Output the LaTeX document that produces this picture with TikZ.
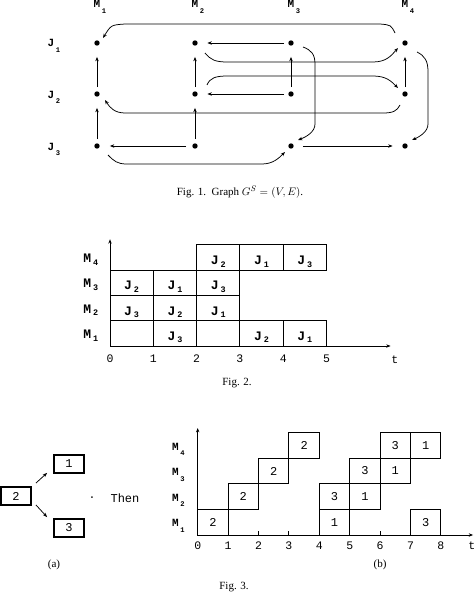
\documentclass[tikz,border=0pt]{standalone}
\usepackage{fontspec}
\usepackage{graphicx}
\setmainfont{Liberation Serif}
\newfontfamily\dmfont{Liberation Mono}
\usetikzlibrary{arrows.meta,calc}
\newcommand{\sbs}[3][0.2em]{#2\kern0.15em\raisebox{-#1}{\scalebox{0.65}{#3}}}
\begin{document}
\begin{tikzpicture}[x=1pt,y=-1pt,
  dot/.style={circle,fill=black,inner sep=0pt,minimum size=5.4pt},
  arr/.style={line width=0.75pt,-{Stealth[length=4.4pt,width=3.4pt]}},
  lab/.style={inner sep=0pt,font=\dmfont\bfseries\fontsize{11}{11}\selectfont},
  labb/.style={inner sep=0pt,font=\dmfont\bfseries\fontsize{13}{13}\selectfont},
  tick/.style={inner sep=0pt,font=\dmfont\fontsize{11.5}{11.5}\selectfont},
  captxt/.style={inner sep=0pt,font=\fontsize{11}{13}\selectfont},
  cellA/.style={draw,line width=0.9pt,minimum width=43.3pt,minimum height=25.3pt,inner sep=0pt,text height=14pt,text depth=0pt,font=\dmfont\bfseries\fontsize{13}{13}\selectfont},
  cellB/.style={draw,line width=0.9pt,minimum width=30.4pt,minimum height=25.6pt,inner sep=0pt,font=\dmfont\fontsize{12}{12}\selectfont},
  tbox/.style={draw,line width=1.8pt,minimum width=30pt,minimum height=18pt,inner sep=0pt,font=\dmfont\fontsize{12}{12}\selectfont}
]
\useasboundingbox (0,0) rectangle (474,594);

% ---------------- Fig. 1 ----------------
\node[dot] (a11) at (97,43) {};
\node[dot] (a12) at (97,94) {};
\node[dot] (a13) at (97,146) {};
\node[dot] (a21) at (195,43) {};
\node[dot] (a22) at (195,94) {};
\node[dot] (a23) at (195,146) {};
\node[dot] (a31) at (291,43) {};
\node[dot] (a32) at (291,94) {};
\node[dot] (a33) at (291,146) {};
\node[dot] (a41) at (405,43) {};
\node[dot] (a42) at (405,94) {};
\node[dot] (a43) at (405,146) {};

\node[lab,anchor=base west] (lm1) at (93.5,8) {\sbs[0.5em]{M}{1}};
\node[lab,anchor=base west] (lm2) at (191.5,8) {\sbs[0.5em]{M}{2}};
\node[lab,anchor=base west] (lm3) at (287.5,8) {\sbs[0.5em]{M}{3}};
\node[lab,anchor=base west] (lm4) at (401.5,8) {\sbs[0.5em]{M}{4}};
\node[lab,anchor=base west] (lj1) at (47.5,47) {\sbs[0.5em]{J}{1}};
\node[lab,anchor=base west] (lj2) at (47.5,98) {\sbs[0.5em]{J}{2}};
\node[lab,anchor=base west] (lj3) at (47.5,150) {\sbs[0.5em]{J}{3}};

% straight arrows
\draw[arr,shorten <=4pt,shorten >=11pt] (a12) -- (a11);
\draw[arr,shorten <=4pt,shorten >=11pt] (a13) -- (a12);
\draw[arr,shorten <=4pt,shorten >=11pt] (a22) -- (a21);
\draw[arr,shorten <=4pt,shorten >=11pt] (a23) -- (a22);
\draw[arr,shorten <=4pt,shorten >=11pt] (a32) -- (a31);
\draw[arr,shorten <=4pt,shorten >=11pt] (a42) -- (a41);
\draw[arr,shorten <=4pt,shorten >=9.5pt] (a31) -- (a21);
\draw[arr,shorten <=4pt,shorten >=9.5pt] (a32) -- (a22);
\draw[arr,shorten <=6pt,shorten >=10pt] (a23) -- (a13);
\draw[arr,shorten <=9pt,shorten >=9.5pt] (a33) -- (a43);

% curved arrows
\draw[arr] ($(a41)+(-10,-10)$) .. controls (391,25) .. (380,24) -- (125,24) .. controls (111,25) .. ($(a11)+(6,-5)$);
\draw[arr] ($(a21)+(10,10)$) .. controls (211,60) and (215,62) .. (228,62) -- (373,62) .. controls (386,62) and (391,56) .. ($(a41)+(-7,5)$);
\draw[arr] ($(a22)+(12,-9)$) .. controls (210,78) and (215,76) .. (228,76) -- (373,76) .. controls (386,76) and (391,81) .. ($(a42)+(-7,-6)$);
\draw[arr] ($(a42)+(-5,11)$) .. controls (397,111) and (393,113) .. (383,113) -- (125,113) .. controls (115,113) and (110,108) .. ($(a12)+(8,6)$);
\draw[arr] ($(a13)+(11,9)$) .. controls (114,161) and (117,164) .. (127,164) -- (262,164) .. controls (273,164) and (279,158) .. ($(a33)+(-6,6)$);
\draw[arr] ($(a31)+(12,4)$) .. controls (311,50) and (315,54) .. (315,64) -- (315,124) .. controls (315,132) and (306,137) .. ($(a33)+(7,-6)$);
\draw[arr] ($(a41)+(12,9)$) .. controls (425,56) and (428,61) .. (428,72) -- (428,124) .. controls (428,132) and (419,137) .. ($(a43)+(7,-6)$);

\node[captxt] (cap1) at (240,192) {Fig. 1.\ \ Graph $G^S=(V,E)$.};

% ---------------- Fig. 2 ----------------
\begin{scope}[shift={(110,346)},x=43.3pt,y=25.3pt]
\node[cellA] (g41) at (2.5,3.5) {\sbs{J}{2}\hspace{12pt}};
\node[cellA] (g42) at (3.5,3.5) {\sbs{J}{1}\hspace{12pt}};
\node[cellA] (g43) at (4.5,3.5) {\sbs{J}{3}\hspace{12pt}};
\node[cellA] (g31) at (0.5,2.5) {\sbs{J}{2}\hspace{12pt}};
\node[cellA] (g32) at (1.5,2.5) {\sbs{J}{1}\hspace{12pt}};
\node[cellA] (g33) at (2.5,2.5) {\sbs{J}{3}\hspace{12pt}};
\node[cellA] (g21) at (0.5,1.5) {\sbs{J}{3}\hspace{12pt}};
\node[cellA] (g22) at (1.5,1.5) {\sbs{J}{2}\hspace{12pt}};
\node[cellA] (g23) at (2.5,1.5) {\sbs{J}{1}\hspace{12pt}};
\node[cellA] (g11) at (0.5,0.5) {};
\node[cellA] (g12) at (1.5,0.5) {\sbs{J}{3}\hspace{12pt}};
\node[cellA] (g13) at (2.5,0.5) {};
\node[cellA] (g14) at (3.5,0.5) {\sbs{J}{2}\hspace{12pt}};
\node[cellA] (g15) at (4.5,0.5) {\sbs{J}{1}\hspace{12pt}};
\coordinate (o2) at (0,0);
\coordinate (xe2) at (6.48,0);
\coordinate (ye2) at (0,4.22);
\draw[arr] (o2) -- (xe2);
\draw[arr] (o2) -- (ye2);
\node[labb,anchor=base west] (f2m1) at (-0.62,0.3) {\sbs{M}{1}};
\node[labb,anchor=base west] (f2m2) at (-0.62,1.3) {\sbs{M}{2}};
\node[labb,anchor=base west] (f2m3) at (-0.62,2.3) {\sbs{M}{3}};
\node[labb,anchor=base west] (f2m4) at (-0.62,3.3) {\sbs{M}{4}};
\node[tick,anchor=base] (f2t0) at (0,-0.66) {0};
\node[tick,anchor=base] (f2t1) at (1,-0.66) {1};
\node[tick,anchor=base] (f2t2) at (2,-0.66) {2};
\node[tick,anchor=base] (f2t3) at (3,-0.66) {3};
\node[tick,anchor=base] (f2t4) at (4,-0.66) {4};
\node[tick,anchor=base] (f2t5) at (5,-0.66) {5};
\node[tick,anchor=base] (f2t) at (6.58,-0.68) {t};
\end{scope}
\node[captxt] (cap2) at (237,383) {Fig. 2.};

% ---------------- Fig. 3 (a) ----------------
\node[tbox] (b2) at (16,496) {2};
\node[tbox] (b1) at (69,464) {1};
\node[tbox] (b3) at (69,528) {3};
\draw[arr] ($(b2.north east)+(4,-3)$) -- ($(b1.south west)+(-6,-1)$);
\draw[arr] ($(b2.south east)+(4,-1)$) -- ($(b3.north west)+(-6,-1)$);
\node[tick] (pdot) at (92,498) {.};
\node[tick,font=\dmfont\fontsize{12}{12}\selectfont] (then) at (125,498) {Then};
\node[captxt] (capa) at (54,565) {(a)};

% ---------------- Fig. 3 (b) ----------------
\begin{scope}[shift={(197.7,535)},x=30.4pt,y=25.6pt]
\node[cellB] (h11) at (0.5,0.5) {2};
\node[cellB] (h12) at (4.5,0.5) {1};
\node[cellB] (h13) at (7.5,0.5) {3};
\node[cellB] (h21) at (1.5,1.5) {2};
\node[cellB] (h22) at (4.5,1.5) {3};
\node[cellB] (h23) at (5.5,1.5) {1};
\node[cellB] (h31) at (2.5,2.5) {2};
\node[cellB] (h32) at (5.5,2.5) {3};
\node[cellB] (h33) at (6.5,2.5) {1};
\node[cellB] (h41) at (3.5,3.5) {2};
\node[cellB] (h42) at (6.5,3.5) {3};
\node[cellB] (h43) at (7.5,3.5) {1};
\coordinate (o3) at (0,0);
\coordinate (xe3) at (9.06,0);
\coordinate (ye3) at (0,4.18);
\draw[arr] (o3) -- (xe3);
\draw[arr] (o3) -- (ye3);
\coordinate (k2) at (2,0);
\coordinate (k3) at (3,0);
\coordinate (k6) at (6,0);
\draw[line width=0.9pt] (k2) -- ++(0,0.15);
\draw[line width=0.9pt] (k3) -- ++(0,0.15);
\draw[line width=0.9pt] (k6) -- ++(0,0.15);
\node[lab,anchor=base west] (f3m1) at (-0.85,0.32) {\sbs[0.5em]{M}{1}};
\node[lab,anchor=base west] (f3m2) at (-0.85,1.32) {\sbs[0.5em]{M}{2}};
\node[lab,anchor=base west] (f3m3) at (-0.85,2.32) {\sbs[0.5em]{M}{3}};
\node[lab,anchor=base west] (f3m4) at (-0.85,3.32) {\sbs[0.5em]{M}{4}};
\node[tick,anchor=base] (f3t0) at (0,-0.56) {0};
\node[tick,anchor=base] (f3t1) at (1,-0.56) {1};
\node[tick,anchor=base] (f3t2) at (2,-0.56) {2};
\node[tick,anchor=base] (f3t3) at (3,-0.56) {3};
\node[tick,anchor=base] (f3t4) at (4,-0.56) {4};
\node[tick,anchor=base] (f3t5) at (5,-0.56) {5};
\node[tick,anchor=base] (f3t6) at (6,-0.56) {6};
\node[tick,anchor=base] (f3t7) at (7,-0.56) {7};
\node[tick,anchor=base] (f3t8) at (8,-0.56) {8};
\node[tick,anchor=base west] (f3t) at (8.9,-0.56) {t};
\end{scope}
\node[captxt] (capb) at (380,565) {(b)};
\node[captxt] (cap3) at (234,587) {Fig. 3.};
\end{tikzpicture}
\end{document}
